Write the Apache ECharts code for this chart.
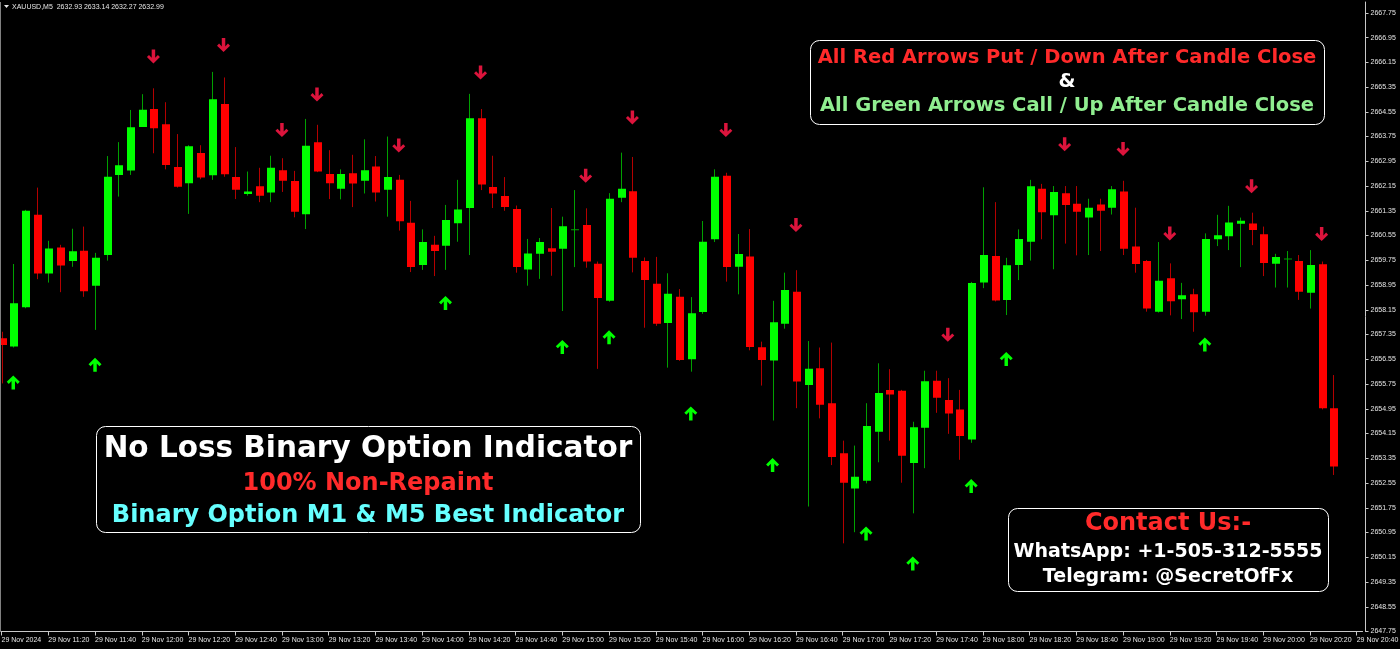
<!DOCTYPE html>
<html><head><meta charset="utf-8">
<script src="https://cdn.jsdelivr.net/npm/echarts@6/dist/echarts.min.js"></script>
<style>html,body{margin:0;padding:0;background:#000;}#c{width:1400px;height:649px;}</style>
</head><body><div id="c"></div>
<script>
const times = ["11:00","11:05","11:10","11:15","11:20","11:25","11:30","11:35","11:40","11:45","11:50","11:55",
"12:00","12:05","12:10","12:15","12:20","12:25","12:30","12:35","12:40","12:45","12:50","12:55",
"13:00","13:05","13:10","13:15","13:20","13:25","13:30","13:35","13:40","13:45","13:50","13:55",
"14:00","14:05","14:10","14:15","14:20","14:25","14:30","14:35","14:40","14:45","14:50","14:55",
"15:00","15:05","15:10","15:15","15:20","15:25","15:30","15:35","15:40","15:45","15:50","15:55",
"16:00","16:05","16:10","16:15","16:20","16:25","16:30","16:35","16:40","16:45","16:50","16:55",
"17:00","17:05","17:10","17:15","17:20","17:25","17:30","17:35","17:40","17:45","17:50","17:55",
"18:00","18:05","18:10","18:15","18:20","18:25","18:30","18:35","18:40","18:45","18:50","18:55",
"19:00","19:05","19:10","19:15","19:20","19:25","19:30","19:35","19:40","19:45","19:50","19:55",
"20:00","20:05","20:10","20:15","20:20","20:25","20:30","20:35","20:40"];

const opens = [2657.23,2656.96,2658.23,2661.22,2659.32,2660.16,2659.73,2660.06,2658.93,2659.92,2662.51,2662.65,
2664.06,2664.64,2664.15,2662.77,2662.24,2663.22,2662.50,2664.80,2662.44,2661.89,2662.14,2661.94,
2662.66,2662.31,2661.24,2663.57,2662.54,2662.06,2662.56,2662.32,2662.78,2662.03,2662.35,2660.96,
2659.60,2660.25,2660.22,2660.95,2661.44,2664.34,2662.12,2661.83,2661.41,2659.45,2659.96,2660.14,
2660.12,2660.73,2660.89,2659.64,2658.44,2661.77,2661.98,2659.73,2658.99,2657.72,2658.57,2656.55,
2658.08,2660.43,2662.48,2659.54,2659.87,2656.94,2656.51,2657.70,2658.73,2655.72,2656.26,2655.13,
2653.51,2652.37,2652.62,2654.21,2655.56,2655.53,2653.20,2654.34,2655.86,2655.23,2654.93,2653.96,
2659.03,2659.89,2658.47,2659.60,2660.35,2662.06,2661.21,2661.92,2661.58,2661.13,2661.55,2661.45,
2661.97,2660.20,2659.73,2658.09,2659.17,2658.49,2658.65,2658.09,2660.43,2660.53,2660.93,2660.94,
2660.59,2659.64,2659.79,2659.73,2658.70,2659.62,2654.97];
const closes = [2657.01,2658.36,2661.35,2659.32,2660.13,2659.58,2660.04,2658.75,2659.83,2662.45,2662.82,2664.05,
2664.62,2664.02,2662.83,2662.13,2663.44,2662.43,2664.96,2662.53,2662.03,2661.97,2661.84,2662.74,
2662.32,2661.32,2663.45,2662.62,2662.24,2662.54,2662.23,2662.66,2661.94,2662.44,2661.01,2659.53,
2660.34,2660.05,2661.05,2661.39,2664.34,2662.20,2661.91,2661.47,2659.53,2659.97,2660.34,2660.03,
2660.85,2660.75,2659.71,2658.53,2661.74,2662.06,2659.83,2659.11,2657.70,2658.67,2656.53,2658.04,
2660.35,2662.45,2659.53,2659.95,2656.95,2656.53,2657.75,2658.79,2655.83,2656.24,2655.08,2653.39,
2652.56,2652.75,2654.39,2655.46,2655.41,2653.43,2654.35,2655.84,2655.31,2654.80,2654.07,2659.02,
2659.92,2658.45,2659.59,2660.44,2662.14,2661.30,2661.96,2661.54,2661.32,2661.45,2661.35,2662.05,
2660.12,2659.63,2658.19,2659.09,2658.43,2658.62,2658.07,2660.44,2660.56,2660.97,2661.03,2660.73,
2659.66,2659.86,2659.81,2658.73,2659.60,2654.97,2653.08];
const highs = [2657.44,2659.63,2661.38,2662.10,2660.38,2660.25,2660.77,2660.84,2659.99,2663.12,2663.57,2664.61,
2665.12,2665.31,2664.86,2663.83,2663.47,2663.47,2665.84,2665.66,2663.41,2662.62,2662.74,2663.13,
2663.05,2662.64,2664.32,2664.13,2663.31,2662.69,2663.16,2663.66,2663.12,2663.75,2662.51,2661.67,
2660.75,2660.54,2661.54,2662.35,2665.13,2664.64,2663.13,2662.44,2661.52,2660.44,2660.47,2661.44,
2661.16,2662.02,2661.43,2659.71,2661.92,2663.23,2663.09,2659.84,2659.86,2659.33,2658.82,2658.56,
2661.02,2662.69,2662.58,2660.60,2660.76,2657.12,2658.44,2659.35,2659.43,2657.14,2656.93,2657.09,
2653.92,2653.76,2655.13,2656.42,2656.23,2655.56,2654.53,2656.18,2656.18,2655.94,2655.56,2659.05,
2662.11,2661.63,2659.83,2660.75,2662.35,2662.22,2662.15,2662.15,2662.15,2661.74,2661.74,2662.15,
2662.32,2661.45,2659.76,2660.34,2659.65,2659.02,2658.83,2660.62,2661.22,2661.51,2661.13,2661.29,
2660.84,2659.96,2660.05,2659.92,2660.08,2659.71,2656.04];
const lows = [2655.77,2656.93,2658.20,2659.14,2659.03,2658.72,2659.54,2658.57,2657.50,2659.74,2661.81,2662.51,
2664.06,2663.21,2662.69,2662.10,2661.25,2662.37,2662.35,2662.45,2661.73,2661.84,2661.63,2661.63,
2661.96,2661.14,2660.76,2662.60,2661.73,2661.72,2661.47,2661.91,2661.65,2661.16,2660.71,2659.37,
2659.44,2659.24,2659.44,2660.35,2659.92,2662.02,2661.44,2661.35,2659.35,2658.93,2659.15,2659.25,
2658.11,2659.53,2659.51,2656.24,2658.41,2661.63,2659.36,2657.57,2657.63,2656.28,2656.50,2656.15,
2658.02,2660.34,2659.06,2658.65,2656.84,2655.70,2654.57,2657.54,2654.97,2651.79,2654.64,2653.13,
2650.60,2650.96,2652.54,2653.22,2653.92,2652.56,2651.57,2653.03,2654.82,2654.14,2653.30,2653.85,
2658.85,2658.42,2657.98,2659.11,2659.74,2660.43,2659.46,2660.29,2659.91,2659.92,2660.05,2661.23,
2659.92,2659.35,2658.09,2658.06,2657.97,2657.85,2657.44,2657.96,2660.21,2660.08,2659.53,2660.24,
2659.24,2658.87,2658.87,2658.47,2658.19,2654.93,2652.81];

const downArrowIdx = [13,19,24,27,34,41,50,54,62,68,81,91,96,100,107,113];
const downArrowPrice = [2666.34,2666.71,2663.96,2665.11,2663.46,2665.82,2662.48,2664.37,2663.96,2660.89,2657.34,2663.50,2663.35,2660.62,2662.14,2660.60];
const upArrowIdx = [1,8,38,48,52,59,66,74,78,83,86,103];
const upArrowPrice = [2655.80,2656.37,2658.37,2656.95,2657.26,2654.80,2653.13,2650.92,2649.95,2652.45,2656.56,2657.03];

const yTicks = {min: 2647.75, max: 2668.10, step: 0.8};
const headerText = 'XAUUSD,M5  2632.93 2633.14 2632.27 2632.99';

const BODY_UP = '#00ff00', BODY_DN = '#ff0000', WICK_UP = '#00a000', WICK_DN = '#b40000';
const AX = '#c8c8c8', LBL = '#e6e6e6';

const candleData = opens.map((o, i) => [i, o, closes[i], lows[i], highs[i]]);

function renderCandle(params, api) {
  const i = api.value(0), o = api.value(1), c = api.value(2), l = api.value(3), h = api.value(4);
  const up = c >= o;
  const pO = api.coord([i, o]), pC = api.coord([i, c]), pL = api.coord([i, l]), pH = api.coord([i, h]);
  const x = Math.round(pO[0]);
  const top = Math.min(pO[1], pC[1]);
  const bh = Math.max(1, Math.abs(pO[1] - pC[1]));
  return {
    type: 'group',
    children: [
      {type: 'line', shape: {x1: x + 0.5, y1: pH[1], x2: x + 0.5, y2: pL[1]},
       style: {stroke: up ? WICK_UP : WICK_DN, lineWidth: 1}},
      {type: 'rect', shape: {x: x - 3, y: top, width: 8, height: bh},
       style: {fill: bh <= 1.2 ? (up ? WICK_UP : WICK_DN) : (up ? BODY_UP : BODY_DN)}}
    ]
  };
}

const DOWN_PATH = 'path://M4.4 0 L7.6 0 L7.6 7.8 L10.1 5.2 L12 7.1 L6 13 L0 7.1 L1.9 5.2 L4.4 7.8 Z';
const UP_PATH = 'path://M4.4 13 L7.6 13 L7.6 5.2 L10.1 7.8 L12 5.9 L6 0 L0 5.9 L1.9 7.8 L4.4 5.2 Z';

function box(x, y, w, h, lines) {
  const els = [{type: 'rect', shape: {x: x, y: y, width: w, height: h, r: 9},
    style: {fill: '#000', stroke: '#ffffff', lineWidth: 1}, z: 100}];
  lines.forEach(t => els.push({type: 'text', z: 101,
    style: {text: t.text, x: t.x, y: t.y, fill: t.color, align: 'center', verticalAlign: 'middle',
      font: 'bold ' + t.size + 'px "DejaVu Sans", Verdana, sans-serif'}}));
  return els;
}

const graphics = [].concat(
  [{type: 'line', shape: {x1: 0.5, y1: 2, x2: 0.5, y2: 632}, style: {stroke: '#808080', lineWidth: 1}, z: 50},
   {type: 'polygon', shape: {points: [[4, 5], [9, 5], [6.5, 8]]}, style: {fill: LBL}, z: 50},
   {type: 'text', style: {text: headerText, x: 12, y: 7, fill: LBL, verticalAlign: 'middle',
     font: '7px "Liberation Sans", Arial, sans-serif'}, z: 50}],
  box(810.5, 40.5, 514, 84, [
    {text: 'All Red Arrows Put / Down After Candle Close', x: 1067, y: 58, color: '#ff2a2a', size: 19.5},
    {text: '&', x: 1067, y: 82, color: '#ffffff', size: 19.5},
    {text: 'All Green Arrows Call / Up After Candle Close', x: 1067, y: 106, color: '#90ee90', size: 19.5}
  ]),
  box(96.5, 426.5, 544, 106, [
    {text: 'No Loss Binary Option Indicator', x: 368, y: 449, color: '#ffffff', size: 29.5},
    {text: '100% Non-Repaint', x: 368, y: 484, color: '#ff2a2a', size: 24},
    {text: 'Binary Option M1 & M5 Best Indicator', x: 368, y: 516, color: '#66ffff', size: 24}
  ]),
  box(1008.5, 508.5, 320, 83, [
    {text: 'Contact Us:-', x: 1168, y: 524, color: '#ff2a2a', size: 24},
    {text: 'WhatsApp: +1-505-312-5555', x: 1168, y: 552, color: '#ffffff', size: 19},
    {text: 'Telegram: @SecretOfFx', x: 1168, y: 577, color: '#ffffff', size: 19}
  ])
);

const chart = echarts.init(document.getElementById('c'), null, {renderer: 'canvas'});
chart.setOption({
  backgroundColor: '#000000',
  animation: false,
  grid: {left: -4.27, top: 2, width: 1366.8, height: 629.5, containLabel: false, outerBoundsMode: 'none'},
  xAxis: {
    type: 'category', data: times, boundaryGap: true,
    axisLine: {show: true, lineStyle: {color: AX, width: 1}},
    axisTick: {show: true, alignWithLabel: true, interval: 3, length: 4, lineStyle: {color: AX}},
    axisLabel: {interval: 3, align: 'left', margin: 5, color: LBL, fontSize: 7, hideOverlap: false,
      fontFamily: '"Liberation Sans", Arial, sans-serif',
      formatter: (v, i) => i === 0 ? '29 Nov 2024' : '29 Nov ' + v},
    splitLine: {show: false}
  },
  yAxis: {
    type: 'value', position: 'right', offset: 3,
    min: yTicks.min, max: yTicks.max, interval: yTicks.step, scale: true,
    axisLine: {show: true, lineStyle: {color: AX, width: 1}},
    axisTick: {show: true, length: 3, lineStyle: {color: AX}},
    axisLabel: {color: LBL, fontSize: 7, margin: 5, showMaxLabel: false, showMinLabel: true,
      fontFamily: '"Liberation Sans", Arial, sans-serif',
      formatter: v => v.toFixed(2)},
    splitLine: {show: false}
  },
  series: [
    {type: 'custom', name: 'XAUUSD', renderItem: renderCandle, data: candleData,
     encode: {x: 0, y: [1, 2, 3, 4]}, clip: true, z: 2},
    {type: 'scatter', name: 'Put', data: downArrowIdx.map((i, k) => [i, downArrowPrice[k]]),
     symbol: DOWN_PATH, symbolSize: [13, 14], itemStyle: {color: '#dc143c', opacity: 1}, z: 3},
    {type: 'scatter', name: 'Call', data: upArrowIdx.map((i, k) => [i, upArrowPrice[k]]),
     symbol: UP_PATH, symbolSize: [13, 14], itemStyle: {color: '#00ff00', opacity: 1}, z: 3}
  ],
  graphic: graphics
});
</script></body></html>
